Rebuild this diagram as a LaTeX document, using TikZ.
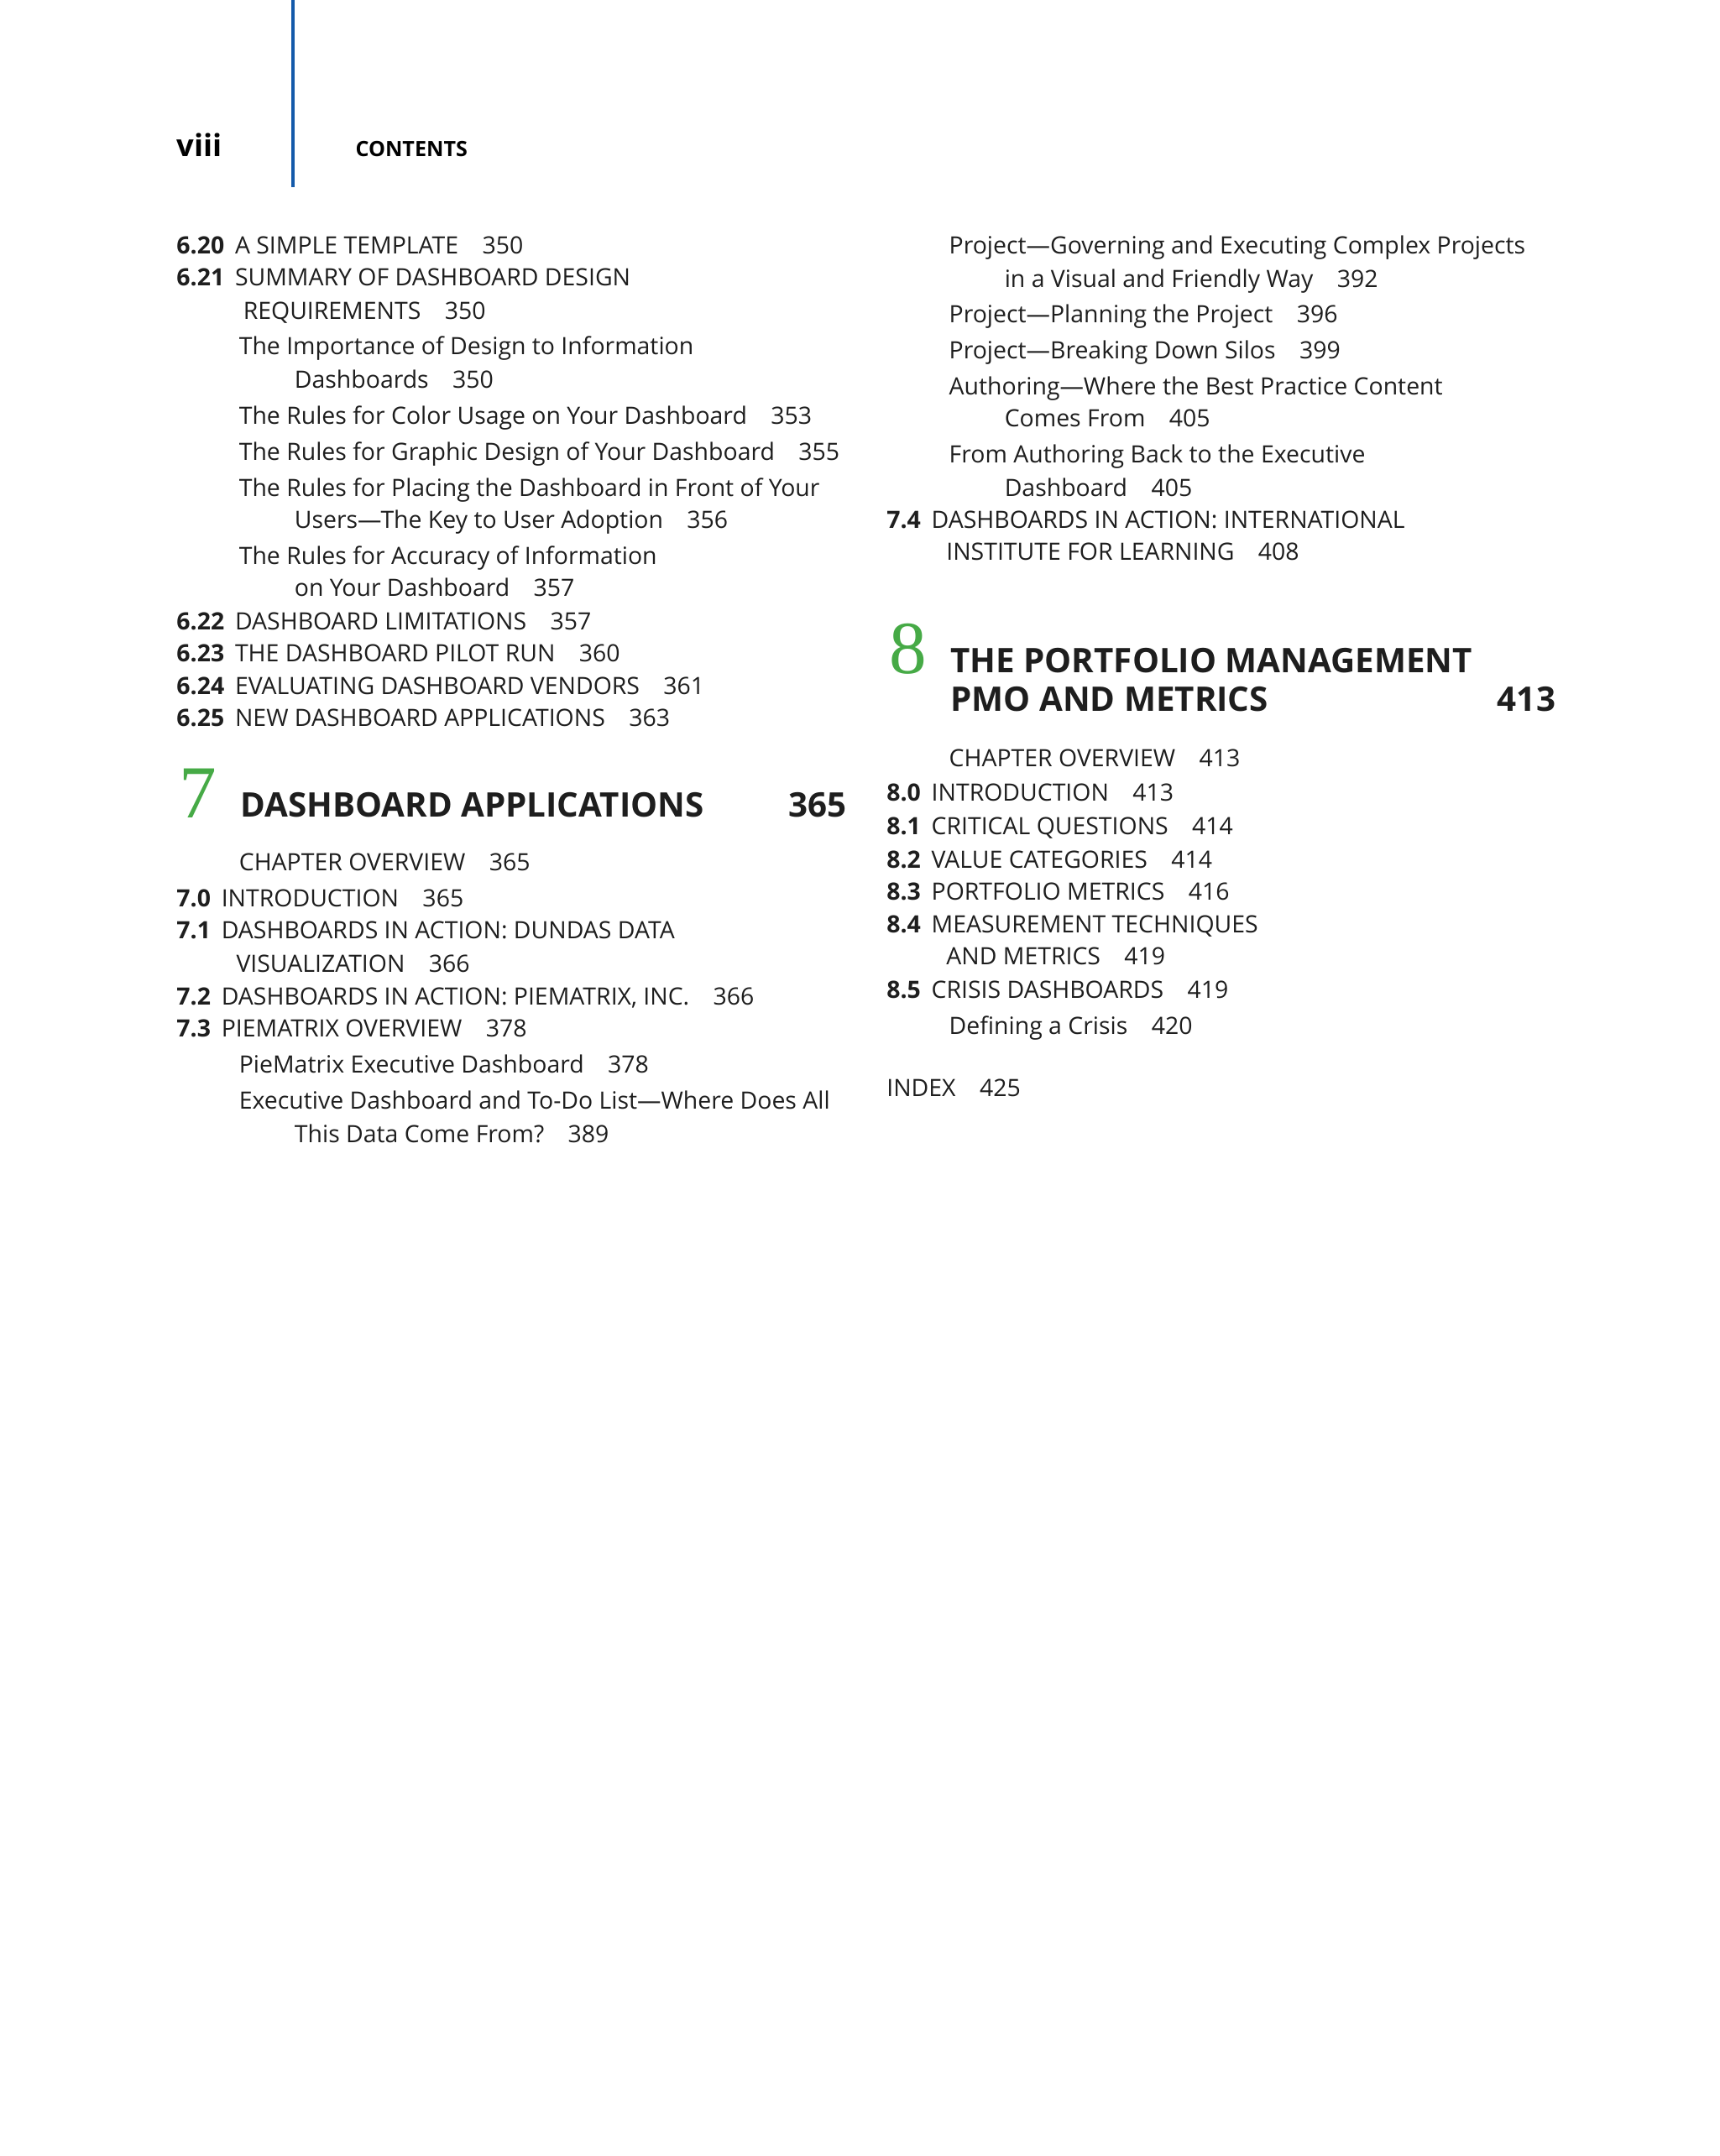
\documentclass[tikz,border=0pt]{standalone}
\usepackage{fontspec}
\setmainfont{Open Sans}
\newfontfamily\numfont{Liberation Serif}
\definecolor{tocblue}{RGB}{20,90,170}
\definecolor{tocgreen}{RGB}{70,170,70}
\definecolor{tocink}{RGB}{30,30,30}
\tikzset{
  tx/.style={anchor=base west,inner sep=0pt,font=\fontsize{8.6}{11}\selectfont,text=tocink},
  hd/.style={anchor=base west,inner sep=0pt,font=\fontsize{12.2}{14}\bfseries\selectfont,text=tocink},
  big/.style={anchor=base,inner sep=0pt,font=\fontsize{27}{30}\numfont\selectfont,text=tocgreen}
}
\newcommand\pg[1]{\hspace{1em}#1}
\newcommand\nb[1]{\textbf{#1}\hspace{0.45em}}
\begin{document}
\begin{tikzpicture}[x=0.5pt,y=-0.5pt]
\useasboundingbox (0,0) rectangle (1240,1555);
\fill[white] (0,0) rectangle (1240,1555);
\draw[tocblue,line width=1.2pt] (211,0) -- (211,135);
\node[anchor=base west,inner sep=0pt,font=\fontsize{11}{13}\bfseries\selectfont] (pn) at (127,113) {viii};
\node[anchor=base west,inner sep=0pt,font=\fontsize{7.6}{10}\bfseries\selectfont] (ct) at (256,113) {CONTENTS};
% left column
\node[tx] (a1) at (127,183) {\nb{6.20}A SIMPLE TEMPLATE\pg{350}};
\node[tx] (a2) at (127,206) {\nb{6.21}SUMMARY OF DASHBOARD DESIGN};
\node[tx] (a3) at (175,230) {REQUIREMENTS\pg{350}};
\node[tx] (a4) at (172,256) {The Importance of Design to Information};
\node[tx] (a5) at (212,280) {Dashboards\pg{350}};
\node[tx] (a6) at (172,306) {The Rules for Color Usage on Your Dashboard\pg{353}};
\node[tx] (a7) at (172,332) {The Rules for Graphic Design of Your Dashboard\pg{355}};
\node[tx] (a8) at (172,358) {The Rules for Placing the Dashboard in Front of Your};
\node[tx] (a9) at (212,381) {Users—The Key to User Adoption\pg{356}};
\node[tx] (a10) at (172,407) {The Rules for Accuracy of Information};
\node[tx] (a11) at (212,430) {on Your Dashboard\pg{357}};
\node[tx] (a12) at (127,454) {\nb{6.22}DASHBOARD LIMITATIONS\pg{357}};
\node[tx] (a13) at (127,477) {\nb{6.23}THE DASHBOARD PILOT RUN\pg{360}};
\node[tx] (a14) at (127,501) {\nb{6.24}EVALUATING DASHBOARD VENDORS\pg{361}};
\node[tx] (a15) at (127,524) {\nb{6.25}NEW DASHBOARD APPLICATIONS\pg{363}};
\node[big] (c7) at (143,590) {7};
\node[hd] (h7) at (173,589) {DASHBOARD APPLICATIONS};
\node[hd,anchor=base east] (p7) at (611,589) {365};
\node[tx] (b1) at (172,628) {CHAPTER OVERVIEW\pg{365}};
\node[tx] (b2) at (127,654) {\nb{7.0}INTRODUCTION\pg{365}};
\node[tx] (b3) at (127,677) {\nb{7.1}DASHBOARDS IN ACTION: DUNDAS DATA};
\node[tx] (b4) at (170,701) {VISUALIZATION\pg{366}};
\node[tx] (b5) at (127,725) {\nb{7.2}DASHBOARDS IN ACTION: PIEMATRIX, INC.\pg{366}};
\node[tx] (b6) at (127,748) {\nb{7.3}PIEMATRIX OVERVIEW\pg{378}};
\node[tx] (b7) at (172,774) {PieMatrix Executive Dashboard\pg{378}};
\node[tx] (b8) at (172,800) {Executive Dashboard and To-Do List—Where Does All};
\node[tx] (b9) at (212,824) {This Data Come From?\pg{389}};
% right column
\node[tx] (r1) at (684,183) {Project—Governing and Executing Complex Projects};
\node[tx] (r2) at (724,207) {in a Visual and Friendly Way\pg{392}};
\node[tx] (r3) at (684,233) {Project—Planning the Project\pg{396}};
\node[tx] (r4) at (684,259) {Project—Breaking Down Silos\pg{399}};
\node[tx] (r5) at (684,285) {Authoring—Where the Best Practice Content};
\node[tx] (r6) at (724,308) {Comes From\pg{405}};
\node[tx] (r7) at (684,334) {From Authoring Back to the Executive};
\node[tx] (r8) at (724,358) {Dashboard\pg{405}};
\node[tx] (r9) at (639,381) {\nb{7.4}DASHBOARDS IN ACTION: INTERNATIONAL};
\node[tx] (r10) at (682,404) {INSTITUTE FOR LEARNING\pg{408}};
\node[big] (c8) at (655,486) {8};
\node[hd] (h8a) at (685,485) {THE PORTFOLIO MANAGEMENT};
\node[hd] (h8b) at (685,513) {PMO AND METRICS};
\node[hd,anchor=base east] (p8) at (1122,513) {413};
\node[tx] (s1) at (684,553) {CHAPTER OVERVIEW\pg{413}};
\node[tx] (s2) at (639,578) {\nb{8.0}INTRODUCTION\pg{413}};
\node[tx] (s3) at (639,602) {\nb{8.1}CRITICAL QUESTIONS\pg{414}};
\node[tx] (s4) at (639,626) {\nb{8.2}VALUE CATEGORIES\pg{414}};
\node[tx] (s5) at (639,649) {\nb{8.3}PORTFOLIO METRICS\pg{416}};
\node[tx] (s6) at (639,673) {\nb{8.4}MEASUREMENT TECHNIQUES};
\node[tx] (s7) at (682,696) {AND METRICS\pg{419}};
\node[tx] (s8) at (639,720) {\nb{8.5}CRISIS DASHBOARDS\pg{419}};
\node[tx] (s9) at (684,746) {Defining a Crisis\pg{420}};
\node[tx] (s10) at (639,791) {INDEX\pg{425}};
\end{tikzpicture}
\end{document}
